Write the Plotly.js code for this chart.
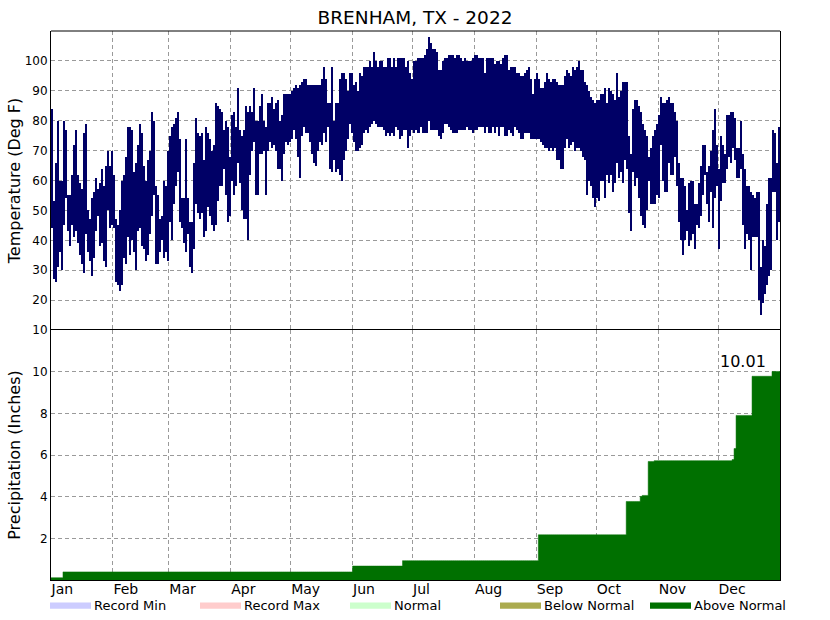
<!DOCTYPE html>
<html>
<head>
<meta charset="utf-8">
<script src="https://cdn.plot.ly/plotly-3.0.1.min.js"></script>
<style>html,body{margin:0;padding:0;background:#fff;}#chart{width:830px;height:620px;}</style>
</head>
<body>
<div id="chart"></div>
<script>
// ---- data ----
const YEAR_START = '2022-01-01';
const YEAR_END = '2023-01-01';
const titleText = 'BRENHAM, TX - 2022';
const monthStarts = ['2022-01-01','2022-02-01','2022-03-01','2022-04-01','2022-05-01','2022-06-01','2022-07-01','2022-08-01','2022-09-01','2022-10-01','2022-11-01','2022-12-01'];
const monthLabels = ['Jan','Feb','Mar','Apr','May','Jun','Jul','Aug','Sep','Oct','Nov','Dec'];
const tempTicks = [10,20,30,40,50,60,70,80,90,100];
const precipTicks = [2,4,6,8,10];

// daily high temperatures (deg F), Jan 1 .. Dec 31
const tmax = [
84,53,66,80,60,60,80,77,55,55, 62,72,77,62,59,57,76,79,50,47,
54,56,61,57,59,64,58,65,70,65, 70,62,47,45,50,60,62,68,78,78,
77,63,66,72,79,76,65,60,67,70, 83,80,58,55,47,48,60,58,70,75,
78,79,81,83,74,54,54,74,54,46, 46,66,81,76,75,76,67,78,76,74,
70,72,86,85,84,83,77,80,78,68, 82,83,78,91,77,75,77,85,83,85,
83,91,80,80,85,89,80,78,86,86, 88,84,86,87,80,82,89,89,89,89,
90,91,92,91,92,93,94,94,92,92, 92,92,92,92,92,94,98,94,86,86,
98,80,86,86,94,96,96,94,90,96, 96,92,93,90,96,95,98,98,98,100,
98,103,100,98,100,100,98,98,101,101, 98,101,98,101,101,101,101,98,100,96,
94,100,100,101,101,101,101,102,104,108, 106,104,104,103,97,97,100,101,101,102,
102,102,101,102,102,101,100,101,100,100, 100,101,102,102,101,101,101,96,101,101,
101,101,99,100,100,99,101,102,102,97, 98,98,98,96,96,95,95,96,97,98,
94,89,94,96,94,91,91,93,96,94, 93,94,94,93,92,92,92,95,97,96,
95,98,97,98,100,97,97,93,92,90, 88,87,86,87,87,89,89,91,86,91,
90,89,87,96,88,90,93,93,93,75, 69,84,87,87,85,83,79,77,75,68,
71,75,77,79,82,88,86,86,87,88, 86,86,83,80,66,61,61,58,50,59,
60,60,52,52,59,65,72,72,63,65, 70,77,84,72,64,75,72,69,82,82,
83,83,81,71,71,80,69,64,58,58, 56,55,54,56,56,31,40,38,52,61,
61,77,76,66,78
];
// daily low temperatures (deg F), Jan 1 .. Dec 31
const tmin = [
44,27,26,31,36,30,45,54,43,38, 45,41,43,39,35,32,29,42,36,33,
28,34,43,48,38,39,33,31,50,44, 45,44,26,25,23,25,34,32,41,35,
40,36,30,43,44,38,37,33,35,42, 48,55,32,32,36,40,34,36,33,46,
40,52,58,63,46,44,39,36,42,31, 29,37,52,49,47,49,41,43,51,48,
45,43,45,53,58,58,64,55,46,48, 60,55,58,66,59,50,47,47,40,62,
70,73,55,55,69,69,70,55,70,73, 71,72,70,64,64,60,69,73,72,73,
74,77,74,68,61,75,78,76,76,73, 69,66,65,70,73,72,76,73,78,64,
63,67,63,64,62,60,67,70,74,79, 76,73,70,70,71,72,76,77,76,78,
79,80,79,78,78,78,77,75,76,75, 76,75,78,77,74,75,77,77,71,75,
77,76,77,76,76,78,76,76,76,80, 77,77,77,77,75,74,76,79,79,78,
77,76,76,76,77,77,77,77,78,77, 77,76,77,77,78,78,78,76,78,76,
76,78,76,78,75,78,78,75,75,77, 76,75,78,77,76,74,74,76,76,76,
74,74,74,74,74,73,72,71,71,70, 71,70,71,67,67,64,64,71,74,71,
72,73,70,71,71,70,68,67,55,60, 58,54,51,54,53,60,60,54,62,59,
62,56,59,66,61,63,59,67,64,49, 43,63,58,61,54,48,45,44,50,60,
52,52,52,55,54,72,60,56,56,66, 62,62,68,58,46,40,35,40,43,38,
40,42,37,45,44,48,55,62,52,46, 56,44,54,58,37,53,59,59,64,68,
66,71,67,61,61,64,45,37,42,40, 30,41,41,41,20,15,19,22,25,28,
30,56,56,40,46
];
// days with rain and the amount (inches)
const rainDates = ['2022-01-01','2022-01-07','2022-06-01','2022-06-26','2022-09-02','2022-10-16','2022-10-23','2022-10-24','2022-10-27','2022-10-30','2022-12-08','2022-12-09','2022-12-10','2022-12-18','2022-12-28'];
const rainAmounts = [0.11,0.28,0.28,0.26,1.24,1.60,0.24,0.05,1.63,0.04,0.05,0.53,1.59,1.88,0.23];

const legendNames = ['Record Min','Record Max','Normal','Below Normal','Above Normal'];
const legendColors = ['#ccccff','#ffcccc','#ccffcc','#abab4f','#007000'];

// ---- build ----
function isoDay(i){
  const d = new Date(Date.parse(YEAR_START+'T00:00:00Z') + i*86400000);
  return d.toISOString().slice(0,10);
}
const days = tmax.map((_,i)=>isoDay(i));
const range = tmax.map((v,i)=>v - tmin[i]);

const rainMap = {};
rainDates.forEach((d,i)=>{ rainMap[d] = (rainMap[d]||0) + rainAmounts[i]; });
const cumX = [], cumY = [];
let total = 0;
days.forEach(d=>{ total += (rainMap[d]||0); cumX.push(d); cumY.push(+total.toFixed(2)); });
cumX.push(YEAR_END); cumY.push(+total.toFixed(2));

const NAVY = '#000066';
const GREEN = '#007000';
const GRID = '#9a9a9a';

const traces = [
  {type:'bar', x:days, y:range, base:tmin, width:86400000, offset:0,
   marker:{color:NAVY, line:{width:0}}, xaxis:'x', yaxis:'y', hoverinfo:'skip', showlegend:false},
  {type:'scatter', mode:'lines', x:cumX, y:cumY, line:{shape:'hv', color:GREEN, width:0.5},
   fill:'tozeroy', fillcolor:GREEN, xaxis:'x', yaxis:'y2', hoverinfo:'skip', showlegend:false}
];

const L = 51, R = 780, T = 31, B = 580;
const PW = R - L, PH = B - T;
const split = (B - 330) / PH;
const px = x => (x - L) / PW;
const py = y => (B - y) / PH;

const shapes = [
  {type:'line', xref:'paper', yref:'paper', x0:0, x1:1, y0:1, y1:1, line:{color:'#000', width:1}}
];
const annotations = [];
legendNames.forEach((n,i)=>{
  const x0 = 50 + 150*i;
  shapes.push({type:'rect', xref:'paper', yref:'paper', x0:px(x0), x1:px(x0+41), y0:py(602.5), y1:py(608.8),
    fillcolor:legendColors[i], line:{width:0}});
  annotations.push({xref:'paper', yref:'paper', x:px(x0+42), y:py(605.5), xanchor:'left', yanchor:'middle',
    text:n, showarrow:false, font:{size:13, color:'#000'}});
});
annotations.push({xref:'x', yref:'y2', x:YEAR_END, y:total, xanchor:'right', yanchor:'bottom',
  xshift:-12, yshift:-2, text: total.toFixed(2), showarrow:false, font:{size:16, color:'#000'}});

const yCommon = {showline:true, linecolor:'#000', linewidth:1, ticks:'', zeroline:false,
  tickfont:{size:12, color:'#000'}, fixedrange:true};

const layout = {
  width:830, height:620,
  margin:{l:L, r:830-R, t:T, b:620-B, pad:0},
  paper_bgcolor:'#fff', plot_bgcolor:'#fff',
  font:{family:'DejaVu Sans', size:12, color:'#000'},
  title:{text:titleText, font:{size:18.5, color:'#000'}, x:0.5, xanchor:'center', xref:'container',
    y:1-18/620, yref:'container', yanchor:'middle'},
  showlegend:false, bargap:0,
  xaxis:{type:'date', range:[YEAR_START, YEAR_END], anchor:'y2', tickmode:'array', tickvals:monthStarts, ticktext:monthLabels,
    ticklabelposition:'outside right', ticklabelstandoff:-4, showgrid:true, gridcolor:GRID, griddash:'4px,3px', gridwidth:1,
    showline:true, linecolor:'#000', mirror:true, ticks:'', zeroline:false, tickfont:{size:14, color:'#000'}, fixedrange:true},
  yaxis:Object.assign({}, yCommon, {domain:[split,1], range:[10,110], tickmode:'array', tickvals:tempTicks,
    showgrid:true, gridcolor:GRID, griddash:'4px,3px', mirror:true, anchor:'x',
    title:{text:'Temperature (Deg F)', font:{size:16}, standoff:0}}),
  yaxis2:Object.assign({}, yCommon, {domain:[0,split], range:[0,12], tickmode:'array', tickvals:precipTicks,
    showgrid:true, gridcolor:GRID, griddash:'4px,3px', mirror:true, anchor:'x',
    title:{text:'Precipitation (Inches)', font:{size:16}, standoff:7}}),
  yaxis3:Object.assign({}, yCommon, {overlaying:'y', side:'right', range:[10,110], tickmode:'array', tickvals:tempTicks,
    showgrid:false, anchor:'x'}),
  yaxis4:Object.assign({}, yCommon, {overlaying:'y2', side:'right', range:[0,12], tickmode:'array', tickvals:precipTicks,
    showgrid:false, anchor:'x'}),
  shapes:shapes, annotations:annotations
};

Plotly.newPlot('chart', traces, layout, {staticPlot:true, displayModeBar:false});
</script>
</body>
</html>
